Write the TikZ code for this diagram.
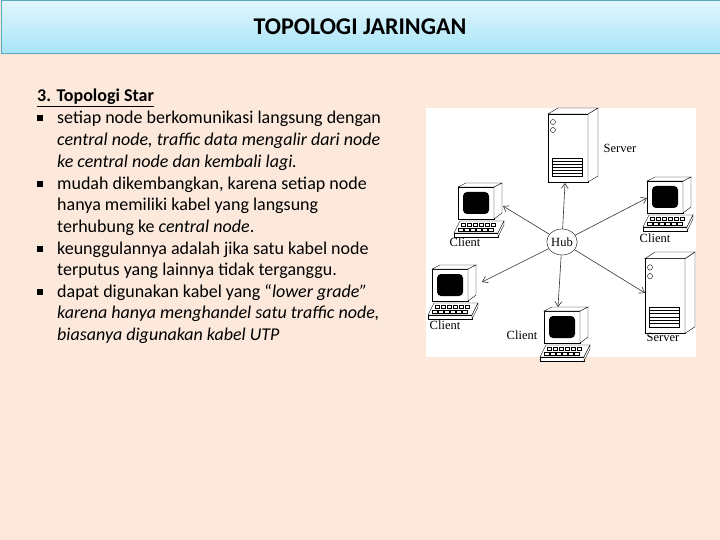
\documentclass[tikz,border=0pt]{standalone}
\usepackage{fontspec}
\setmainfont{Carlito}
\newfontfamily\diafont{Liberation Serif}
\usetikzlibrary{arrows.meta,shapes.geometric}
\definecolor{bgc}{HTML}{FCE9DC}
\definecolor{ttop}{HTML}{E2F6FD}
\definecolor{tbot}{HTML}{A6E4F6}
\definecolor{tbord}{HTML}{5AA9BA}
\newcommand{\sqb}{\rule[0.12em]{0.32em}{0.32em}}
\tikzset{
  dia/.style={font=\diafont\fontsize{12.5}{13}\selectfont, inner sep=0pt},
  link/.style={draw=black!80, line width=0.6pt, -{Straight Barb[length=5pt,width=7pt]}},
  txt/.style={anchor=west, inner sep=0pt, font=\fontsize{18}{20}\selectfont},
  client/.pic={
    \draw[fill=white] (0,4) rectangle (36,36);
    \draw[fill=white] (36,4) -- (44,0) -- (44,30) -- (36,36) -- cycle;
    \draw[fill=white] (0,4) -- (8,0) -- (44,0) -- (36,4) -- cycle;
    \fill[black, rounded corners=4pt] (5,9) rectangle (31,31);
    \draw[fill=white] (-4,50) -- (40,50) -- (46,38) -- (2,38) -- cycle;
    \draw[fill=white] (-4,50) rectangle (40,54);
    \draw[fill=white] (40,50) -- (46,38) -- (46,42) -- (40,54) -- cycle;
    \foreach \r in {0,1}{\foreach \c in {0,...,5}{
      \draw ({3+\c*6-\r*2.5},{40.5+\r*4.5}) rectangle ++(4.5,3);}}
  },
  server/.pic={
    \draw[fill=white] (0,6) rectangle (40,74);
    \draw[fill=white] (40,6) -- (50,0) -- (50,68) -- (40,74) -- cycle;
    \draw[fill=white] (0,6) -- (10,0) -- (50,0) -- (40,6) -- cycle;
    \draw (5,14) circle (2.5); \draw (5,22) circle (2.5);
    \draw (4,50) rectangle (34,68);
    \foreach \k in {1,...,5}{\draw (4,{50+\k*3}) -- (34,{50+\k*3});}
  }
}
\begin{document}
\begin{tikzpicture}[x=1pt,y=-1pt]
\fill[bgc] (0,0) rectangle (720,540);
\useasboundingbox (0,0) rectangle (720,540);
\node[draw=tbord, line width=0.8pt, top color=ttop, bottom color=tbot, minimum width=719pt, minimum height=53pt, inner sep=0pt, anchor=north west] (title) at (0.5,0.5) {};
\node[font=\bfseries\fontsize{24}{26}\selectfont] (tt) at (360,27) {TOPOLOGI JARINGAN};
\node[txt] (h) at (37,98) {\underline{\textbf{3. Topologi Star}}};
\node[txt] (b1) at (37,119) {\sqb};
\node[txt] (l1) at (57,119) {setiap node berkomunikasi langsung dengan};
\node[txt] (l2) at (57,141) {\textit{central node, traffic data mengalir dari node}};
\node[txt] (l3) at (57,163) {\textit{ke central node dan kembali lagi.}};
\node[txt] (b2) at (37,185) {\sqb};
\node[txt] (l4) at (57,185) {mudah dikembangkan, karena setiap node};
\node[txt] (l5) at (57,206) {hanya memiliki kabel yang langsung};
\node[txt] (l6) at (57,228) {terhubung ke \textit{central node}.};
\node[txt] (b3) at (37,250) {\sqb};
\node[txt] (l7) at (57,250) {keunggulannya adalah jika satu kabel node};
\node[txt] (l8) at (57,271) {terputus yang lainnya tidak terganggu.};
\node[txt] (b4) at (37,293) {\sqb};
\node[txt] (l9) at (57,293) {dapat digunakan kabel yang “\textit{lower grade”}};
\node[txt] (l10) at (57,314) {\textit{karena hanya menghandel satu traffic node,}};
\node[txt] (l11) at (57,336) {\textit{biasanya digunakan kabel UTP}};
% diagram
\fill[white] (426,108) rectangle (696,357);
\pic at (548,108) {server};
\pic[yscale=1.1] at (645,252) {server};
\pic at (458,183) {client};
\pic at (647,177) {client};
\pic at (432,265) {client};
\pic at (544,307) {client};
\node[dia] (s1l) at (620,148) {Server};
\node[dia] (s2l) at (663,337) {Server};
\node[dia] (c1l) at (465,242) {Client};
\node[dia] (c2l) at (655,238) {Client};
\node[dia] (c3l) at (445,325) {Client};
\node[dia] (c4l) at (522,335) {Client};
\node[dia, draw, ellipse, minimum width=30pt, minimum height=26pt, fill=white] (hub) at (562,242) {Hub};
\coordinate (s1) at (565,183);
\coordinate (c1) at (503,206);
\coordinate (c2) at (647,198);
\coordinate (c3) at (482,282);
\coordinate (c4) at (558,307);
\coordinate (s2) at (645,293);
\foreach \t in {s1,c1,c2,c3,c4,s2}{\draw[link] (hub) -- (\t);}
\end{tikzpicture}
\end{document}
